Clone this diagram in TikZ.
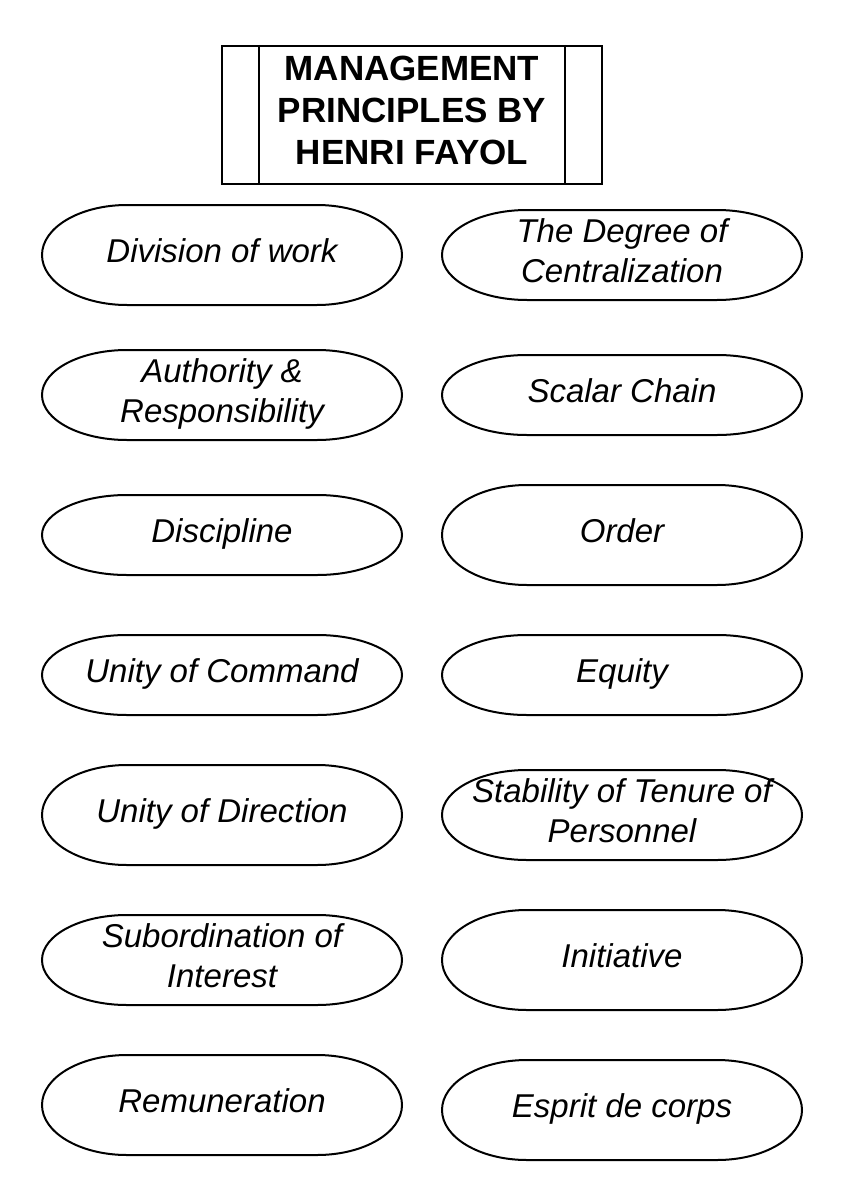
\documentclass[tikz,border=0pt]{standalone}
\usepackage{fontspec}
\setmainfont{Liberation Sans}
\usepackage{tikz}
\tikzstyle{heading} = [rectangle, minimum width=380pt, minimum height=138pt, inner sep=0pt, draw=black, line width=2pt, font=\fontsize{35}{42}\selectfont\bfseries, align=center, text depth=10pt]
\tikzstyle{pill} = [rectangle, minimum width=360pt, inner sep=0pt, outer sep=0pt, font=\fontsize{33}{40}\selectfont\itshape]
\tikzstyle{oneline} = [text height=25pt, text depth=11pt]
\tikzstyle{twoline} = [align=center, text depth=8pt]
\tikzstyle{edge} = [line width=2pt, draw=black]

% name, x, y, height, text style, text
\newcommand{\pillnode}[6]{%
\node (#1) [pill, #5, minimum height=#4pt] at (#2,#3) {#6};
\draw [edge] ([xshift=85pt]#1.north west) -- ([xshift=-85pt]#1.north east)
  arc[start angle=90, end angle=-90, x radius=85pt, y radius=#4pt/2]
  -- ([xshift=85pt]#1.south west)
  arc[start angle=270, end angle=90, x radius=85pt, y radius=#4pt/2] -- cycle;}

\begin{document}
\begin{tikzpicture}[x=1pt, y=-1pt]
\useasboundingbox (0,0) rectangle (854,1199);
\node (title) [heading] at (412,115) {MANAGEMENT\\PRINCIPLES BY\\HENRI FAYOL};
\draw [edge] ([xshift=38pt]title.north west) -- ([xshift=38pt]title.south west);
\draw [edge] ([xshift=-38pt]title.north east) -- ([xshift=-38pt]title.south east);

% left column
\pillnode{division}{222}{255}{100}{oneline}{Division of work}
\pillnode{authority}{222}{395}{90}{twoline}{Authority \&\\Responsibility}
\pillnode{discipline}{222}{535}{80}{oneline}{Discipline}
\pillnode{command}{222}{675}{80}{oneline}{Unity of Command}
\pillnode{direction}{222}{815}{100}{oneline}{Unity of Direction}
\pillnode{interest}{222}{960}{90}{twoline}{Subordination of\\Interest}
\pillnode{pay}{222}{1105}{100}{oneline}{Remuneration}

% right column
\pillnode{central}{622}{255}{90}{twoline}{The Degree of\\Centralization}
\pillnode{scalar}{622}{395}{80}{oneline}{Scalar Chain}
\pillnode{order}{622}{535}{100}{oneline}{Order}
\pillnode{equity}{622}{675}{80}{oneline}{Equity}
\pillnode{tenure}{622}{815}{90}{twoline}{Stability of Tenure of\\Personnel}
\pillnode{initiative}{622}{960}{100}{oneline}{Initiative}
\pillnode{esprit}{622}{1110}{100}{oneline}{Esprit de corps}
\end{tikzpicture}
\end{document}
